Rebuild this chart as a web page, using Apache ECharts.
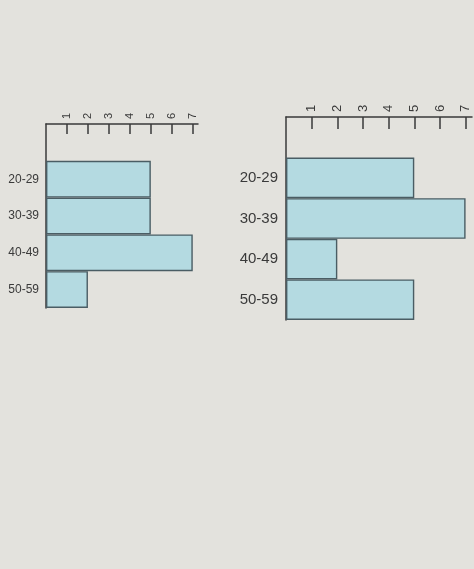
<!DOCTYPE html>
<html>
<head>
<meta charset="utf-8">
<script src="https://cdn.jsdelivr.net/npm/echarts@6/dist/echarts.min.js"></script>
<style>
html,body{margin:0;padding:0;background:#e3e2dd;}
#chart{width:474px;height:569px;}
</style>
</head>
<body>
<div id="chart"></div>
<script>
// Categories (top row blank = space between axis and first bar)
const ageGroups = ['', '20-29', '30-39', '40-49', '50-59'];
const leftValues = [null, 5, 5, 7, 2];
const rightValues = [null, 5, 7, 2, 5];
const tickValues = [1, 2, 3, 4, 5, 6, 7];

const chart = echarts.init(document.getElementById('chart'));

const barFill = '#b4dae1';
const barBorder = '#4a5d64';
const axisColor = '#3a3a3a';

function xAxisCfg(gridIndex, fontSize, tickLen) {
  return {
    gridIndex: gridIndex,
    type: 'value',
    position: 'top',
    min: 0,
    max: 7.25,
    splitLine: { show: false },
    axisLine: { show: true, lineStyle: { color: axisColor, width: 1.5 } },
    axisTick: { show: true, inside: true, length: tickLen, customValues: tickValues,
                lineStyle: { color: axisColor, width: 1.5 } },
    axisLabel: {
      rotate: -90,
      customValues: tickValues,
      color: '#3a3a3a',
      fontSize: fontSize,
      fontFamily: 'Liberation Sans, Arial, sans-serif',
      margin: 5
    }
  };
}
function yAxisCfg(gridIndex, fontSize, margin) {
  return {
    gridIndex: gridIndex,
    type: 'category',
    data: ageGroups,
    inverse: true,
    axisLine: { show: true, lineStyle: { color: axisColor, width: 1.5 } },
    axisTick: { show: false },
    axisLabel: {
      color: '#3a3a3a',
      fontSize: fontSize,
      fontFamily: 'Liberation Sans, Arial, sans-serif',
      margin: margin
    }
  };
}
function seriesCfg(idx, data) {
  return {
    type: 'bar',
    xAxisIndex: idx,
    yAxisIndex: idx,
    data: data,
    barWidth: '100%',
    barGap: '0%',
    itemStyle: { color: barFill, borderColor: barBorder, borderWidth: 1.4 },
    silent: true
  };
}

chart.setOption({
  backgroundColor: '#e3e2dd',
  animation: false,
  grid: [
    { left: 46, top: 124, width: 152, height: 184, containLabel: false },
    { left: 286, top: 117, width: 186, height: 203, containLabel: false }
  ],
  xAxis: [xAxisCfg(0, 11, 10), xAxisCfg(1, 13, 12)],
  yAxis: [yAxisCfg(0, 12, 7), yAxisCfg(1, 15, 8)],
  series: [seriesCfg(0, leftValues), seriesCfg(1, rightValues)]
});
</script>
</body>
</html>
